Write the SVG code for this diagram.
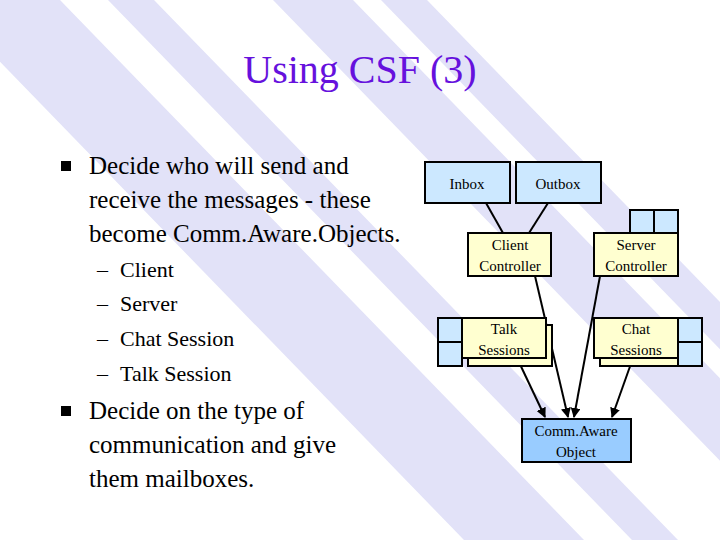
<svg xmlns="http://www.w3.org/2000/svg" width="720" height="540" viewBox="0 0 720 540">
<defs>
<style>
.bg{fill:#E2E2F8}
text{font-family:'Times New Roman','Liberation Serif','DejaVu Serif',serif;fill:#000}
.b{font-size:25px}
.s{font-size:22px}
.n{font-size:15px;text-anchor:middle}
.blue{fill:#CCE8FF;stroke:#000;stroke-width:2}
.yel{fill:#FFFFD0;stroke:#000;stroke-width:2}
.obj{fill:#99CCFF;stroke:#000;stroke-width:2}
.ln{stroke:#000;stroke-width:2;fill:none}
</style>
<marker id="ah" viewBox="0 0 10 10" refX="9" refY="5" markerWidth="5" markerHeight="5" orient="auto"><path d="M0,0L10,5L0,10z" fill="#000"/></marker>
</defs>
<rect width="720" height="540" fill="#fff"/>
<g id="background">
<polygon class="bg" points="-60,0 60,0 584,540 464,540"/>
<polygon class="bg" points="108,0 154,0 678,540 632,540"/>
<polygon class="bg" points="273,0 353,0 877,540 797,540"/>
<polygon class="bg" points="381,0 427,0 951,540 905,540"/>
</g>
<text x="360" y="83" font-size="40" style="fill:#6611DD" text-anchor="middle">Using CSF (3)</text>
<g id="text">
<rect x="61" y="161" width="10" height="10" fill="#000"/>
<text class="b" x="89" y="174">Decide who will send and</text>
<text class="b" x="89" y="208">receive the messages - these</text>
<text class="b" x="89" y="242">become Comm.Aware.Objects.</text>
<text class="s" x="97" y="277">–</text><text class="s" x="120" y="277">Client</text>
<text class="s" x="97" y="311">–</text><text class="s" x="120" y="311">Server</text>
<text class="s" x="97" y="346">–</text><text class="s" x="120" y="346">Chat Session</text>
<text class="s" x="97" y="381">–</text><text class="s" x="120" y="381">Talk Session</text>
<rect x="61" y="406" width="10" height="10" fill="#000"/>
<text class="b" x="89" y="419">Decide on the type of</text>
<text class="b" x="89" y="453">communication and give</text>
<text class="b" x="89" y="487">them mailboxes.</text>
</g>
<g id="connectors">
<line class="ln" x1="486" y1="203" x2="503" y2="233"/>
<line class="ln" x1="548" y1="203" x2="529" y2="233"/>
<line class="ln" x1="535" y1="276" x2="568" y2="417" marker-end="url(#ah)"/>
<line class="ln" x1="600" y1="276" x2="574" y2="417" marker-end="url(#ah)"/>
<line class="ln" x1="517" y1="358" x2="545" y2="417" marker-end="url(#ah)"/>
<line class="ln" x1="633" y1="358" x2="612" y2="417" marker-end="url(#ah)"/>
</g>
<g id="inbox"><rect class="blue" x="425" y="162" width="85" height="41"/><text class="n" x="467" y="189">Inbox</text></g>
<g id="outbox"><rect class="blue" x="516" y="162" width="85" height="41"/><text class="n" x="558" y="189">Outbox</text></g>
<g id="client"><rect class="yel" x="468" y="233" width="83" height="43"/><text class="n" x="510" y="250">Client</text><text class="n" x="510" y="271">Controller</text></g>
<g id="server"><rect class="blue" x="630" y="210" width="24" height="23"/><rect class="blue" x="654" y="210" width="24" height="23"/><rect class="yel" x="594" y="233" width="84" height="43"/><text class="n" x="636" y="250">Server</text><text class="n" x="636" y="271">Controller</text></g>
<g id="talk"><rect class="yel" x="468" y="325" width="84" height="41"/><rect class="blue" x="438" y="318" width="24" height="24"/><rect class="blue" x="438" y="342" width="24" height="24"/><rect class="yel" x="462" y="318" width="84" height="40"/><text class="n" x="504" y="334">Talk</text><text class="n" x="504" y="355">Sessions</text></g>
<g id="chat"><rect class="yel" x="600" y="325" width="84" height="41"/><rect class="blue" x="678" y="318" width="24" height="24"/><rect class="blue" x="678" y="342" width="24" height="24"/><rect class="yel" x="594" y="318" width="84" height="40"/><text class="n" x="636" y="334">Chat</text><text class="n" x="636" y="355">Sessions</text></g>
<g id="commaware"><rect class="obj" x="522" y="419" width="109" height="43"/><text class="n" x="576" y="436">Comm.Aware</text><text class="n" x="576" y="457">Object</text></g>
</svg>
